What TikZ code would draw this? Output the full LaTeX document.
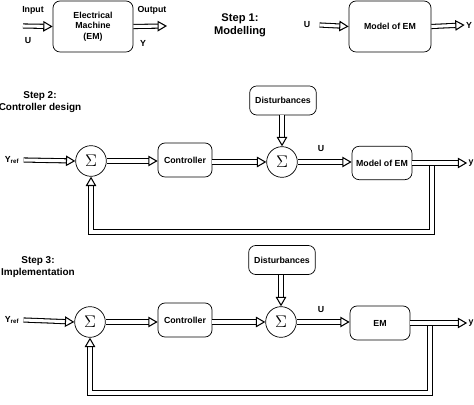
\documentclass[tikz,border=0pt]{standalone}
\usepackage{fontspec}
\setmainfont{Liberation Sans}
\usetikzlibrary{positioning, arrows.meta, calc}
\newcommand{\blkfont}{\fontsize{7.5}{9}\selectfont\bfseries}
\newcommand{\stepfont}{\fontsize{8.5}{10}\selectfont\bfseries}
\tikzset{
    blk/.style={draw, line width=0.6pt, rounded corners=6pt, align=center, font=\blkfont},
    sumnode/.style={draw, line width=0.6pt, circle, minimum size=0.92cm, inner sep=0pt, font=\Large},
    lbl/.style={font=\blkfont, inner sep=1pt},
    steplbl/.style={font=\stepfont, align=center},
    dbl/.style={line width=0.9pt, double, double distance=2.6pt, -{Triangle[open, length=8pt, width=9pt]}}
}
\begin{document}
\begin{tikzpicture}[x=0.03cm, y=-0.03cm]
    \useasboundingbox (0,0) rectangle (474,405);

    % Step 1: modelling
    \node[blk, minimum width=2.4cm, minimum height=1.53cm] (em) at (93,26.5) {Electrical\\Machine\\(EM)};
    \coordinate (in0) at (23,26);
    \coordinate (out0) at (167,26);
    \draw[dbl] (in0) -- (em.west);
    \draw[dbl] (em.east) -- (out0);
    \node[lbl] (inlbl) at (33,10) {Input};
    \node[lbl] (ulbl0) at (28,41) {U};
    \node[lbl] (outlbl) at (152,10) {Output};
    \node[lbl] (ylbl0) at (143,43) {Y};

    \node[steplbl, font=\fontsize{9.5}{11}\selectfont\bfseries] (step1) at (240,25) {Step 1:\\Modelling};

    \node[blk, minimum width=2.46cm, minimum height=1.53cm] (mdl) at (390,26.5) {Model of EM};
    \node[lbl] (u0) at (307,25) {U};
    \node[lbl] (y0) at (469,25) {Y};
    \draw[dbl] (u0.east) ++(8,0) -- (mdl.west);
    \draw[dbl] (mdl.east) -- (y0.west);

    % Step 2: controller design
    \node[steplbl] (step2) at (40,102) {Step 2:\\Controller design};
    \node[lbl] (yref2) at (12,160) {Y\textsubscript{ref}};
    \node[sumnode] (sa2) at (91,161) {$\Sigma$};
    \node[blk, minimum width=1.62cm, minimum height=1.02cm] (ctrl2) at (185,160) {Controller};
    \node[sumnode] (sb2) at (282,162) {$\Sigma$};
    \node[blk, minimum width=2.0cm, minimum height=0.87cm] (dist2) at (283,100.5) {Disturbances};
    \node[blk, minimum width=1.8cm, minimum height=1.0cm] (mod2) at (382,163) {Model of EM};
    \node[lbl] (u2) at (321,149) {U};
    \node[lbl] (y2) at (471,163) {y};
    \coordinate (tap2) at (432,163);

    \draw[dbl] (yref2.east) ++(3,0) -- (sa2.west);
    \draw[dbl] (sa2.east) -- (ctrl2.west |- sa2.east);
    \draw[dbl] (ctrl2.east |- sb2.west) -- (sb2.west);
    \draw[dbl] (dist2.south -| sb2.north) -- (sb2.north);
    \draw[dbl] (sb2.east) -- (mod2.west |- sb2.east);
    \draw[dbl] (tap2) -- ++(0,69) -| (sa2.south);
    \draw[dbl] (mod2.east) -- (y2.west);

    % Step 3: implementation
    \node[steplbl] (step3) at (38,267) {Step 3:\\Implementation};
    \node[lbl] (yref3) at (12,320) {Y\textsubscript{ref}};
    \node[sumnode] (sa3) at (90,322) {$\Sigma$};
    \node[blk, minimum width=1.62cm, minimum height=1.02cm] (ctrl3) at (185,320) {Controller};
    \node[sumnode] (sb3) at (281,322) {$\Sigma$};
    \node[blk, minimum width=2.0cm, minimum height=0.87cm] (dist3) at (282,260) {Disturbances};
    \node[blk, minimum width=1.8cm, minimum height=1.02cm] (em3) at (380,323) {EM};
    \node[lbl] (u3) at (321,310) {U};
    \node[lbl] (y3) at (471,323) {y};
    \coordinate (tap3) at (430,323);

    \draw[dbl] (yref3.east) ++(3,0) -- (sa3.west);
    \draw[dbl] (sa3.east) -- (ctrl3.west |- sa3.east);
    \draw[dbl] (ctrl3.east |- sb3.west) -- (sb3.west);
    \draw[dbl] (dist3.south -| sb3.north) -- (sb3.north);
    \draw[dbl] (sb3.east) -- (em3.west |- sb3.east);
    \draw[dbl] (tap3) -- ++(0,70) -| (sa3.south);
    \draw[dbl] (em3.east) -- (y3.west);
\end{tikzpicture}
\end{document}
